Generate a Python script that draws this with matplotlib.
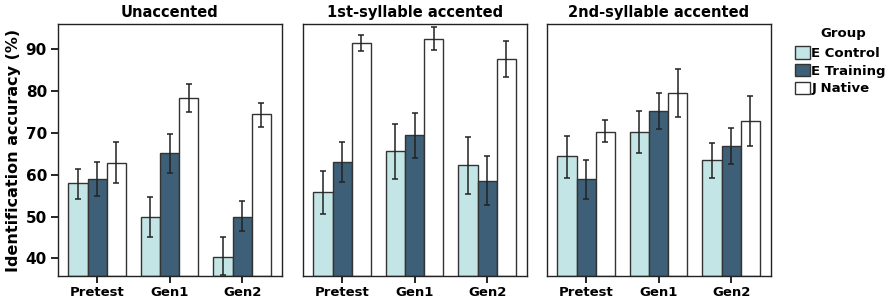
import matplotlib
matplotlib.use('Agg')
import matplotlib.pyplot as plt
from matplotlib.patches import Patch
import numpy as np

plt.rcParams['font.family'] = 'DejaVu Sans'
plt.rcParams['font.weight'] = 'bold'

sessions = ['Pretest', 'Gen1', 'Gen2']
panels = ['Unaccented', '1st-syllable accented', '2nd-syllable accented']
groups = ['E Control', 'E Training', 'J Native']
group_colors = ['#c4e5e6', '#3d5f77', '#ffffff']

# means per panel, rows = group, cols = session
unacc_mean = [[57.9, 49.9, 40.4], [58.9, 65.1, 50.0], [62.8, 78.4, 74.4]]
unacc_lo = [[54.3, 45.0, 36.0], [54.8, 60.5, 46.5], [58.1, 75.0, 71.5]]
unacc_hi = [[61.3, 54.6, 45.2], [63.0, 69.7, 53.7], [67.7, 81.7, 77.1]]

first_mean = [[55.8, 65.6, 62.2], [63.1, 69.5, 58.6], [91.4, 92.5, 87.6]]
first_lo = [[50.7, 59.0, 55.4], [58.2, 64.1, 52.8], [89.5, 89.8, 83.3]]
first_hi = [[60.9, 72.0, 69.1], [67.9, 74.8, 64.5], [93.3, 95.3, 92.0]]

second_mean = [[64.4, 70.3, 63.4], [59.0, 75.2, 66.9], [70.3, 79.6, 72.8]]
second_lo = [[59.3, 65.3, 59.2], [54.3, 70.8, 62.5], [67.7, 73.9, 66.9]]
second_hi = [[69.3, 75.3, 67.6], [63.6, 79.6, 71.2], [73.0, 85.2, 78.7]]

panel_data = [(unacc_mean, unacc_lo, unacc_hi),
              (first_mean, first_lo, first_hi),
              (second_mean, second_lo, second_hi)]

fig = plt.figure(figsize=(8.93, 3.03), dpi=100)
lefts = [58 / 893, 303 / 893, 547 / 893]
width = 224 / 893
bottom = 1 - 276 / 303
height = 252 / 303

x = np.arange(len(sessions))
bw = 0.265
for i, (title, (mean, lo, hi)) in enumerate(zip(panels, panel_data)):
    ax = fig.add_axes([lefts[i], bottom, width, height])
    for g in range(3):
        m = np.array(mean[g])
        err = [m - np.array(lo[g]), np.array(hi[g]) - m]
        xs = x + (g - 1) * bw
        ax.bar(xs, m - 35.8, bottom=35.8, width=bw, color=group_colors[g],
               edgecolor='#333333', linewidth=1.0, zorder=2)
        ax.errorbar(xs, m, yerr=err, fmt='none', ecolor='#222222',
                    elinewidth=1.1, capsize=2, capthick=1.1, zorder=3)
    ax.set_ylim(35.8, 96)
    ax.set_xlim(-0.54, 2.55)
    ax.set_xticks(x)
    ax.set_xticklabels(sessions, fontsize=9.5, fontweight='bold')
    ax.tick_params(axis='x', direction='out', length=5, width=1.2, pad=2)
    ax.set_title(title, fontsize=10.5, fontweight='bold', pad=5)
    for s in ax.spines.values():
        s.set_linewidth(1.0)
        s.set_color('#222222')
    if i == 0:
        ax.set_yticks([40, 50, 60, 70, 80, 90])
        ax.tick_params(axis='y', direction='out', length=5, width=1.2, labelsize=11, pad=3)
        for lab in ax.get_yticklabels():
            lab.set_fontweight('bold')
        ax.set_ylabel('Identification accuracy (%)', fontsize=11.5,
                      fontweight='bold', labelpad=3)
    else:
        ax.set_yticks([])

# legend: title drawn separately so its gap to the entries can be set
fig.text(843 / 893, 1 - 33 / 303, 'Group', ha='center', va='center',
         fontsize=9.5, fontweight='bold')
handles = [Patch(facecolor=c, edgecolor='#333333', linewidth=1.0) for c in group_colors]
leg = fig.legend(handles, groups, loc='upper left', bbox_to_anchor=(795 / 893, 1 - 46 / 303),
                 frameon=False, fontsize=9.5,
                 handlelength=1.1, handleheight=1.1, handletextpad=0.15, labelspacing=0.3,
                 borderaxespad=0, borderpad=0)
for t in leg.get_texts():
    t.set_fontweight('bold')

fig.savefig('out.png', dpi=100)
